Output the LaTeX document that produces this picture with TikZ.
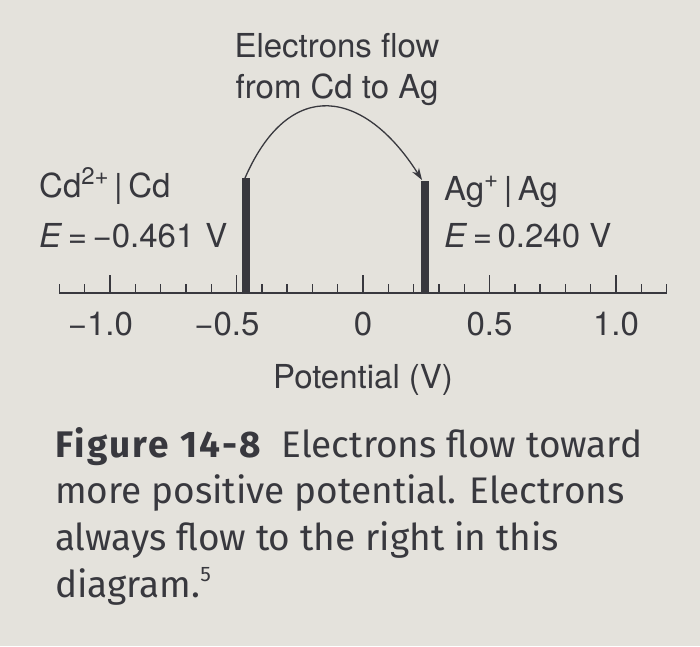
\documentclass[tikz,border=0pt]{standalone}
\usepackage{fontspec}
\setmainfont{TeX Gyre Heros}
\newfontfamily\capfont{Fira Sans}[BoldFeatures={LetterSpace=6}]
\usetikzlibrary{arrows.meta, positioning}
\definecolor{paper}{RGB}{228,226,220}
\definecolor{ink}{RGB}{56,56,62}
\tikzset{
  lbl/.style = {inner sep=0pt, text=ink, font=\fontsize{33}{38}\selectfont},
  ticklbl/.style = {lbl, anchor=base},
  caption/.style = {inner sep=0pt, text=ink, anchor=base west,
    font=\capfont\fontsize{37}{46}\selectfont},
  elec/.style = {draw=ink, line width=1.3pt, -{Stealth[length=12pt, width=8pt]}},
  bar/.style = {draw=ink, line width=8pt},% electrode line
  axisline/.style = {draw=ink, line width=2.4pt}
}
\newcommand{\footmark}[1]{\raisebox{16pt}{\fontsize{21}{21}\selectfont #1}}
\newcommand{\ioncharge}[1]{\raisebox{13pt}{\fontsize{24}{24}\selectfont #1}}

\begin{document}
\begin{tikzpicture}[x=1pt, y=-1pt]
\useasboundingbox (0,0) rectangle (700,646);
\fill[paper] (0,0) rectangle (700,646);
% potential axis, 0.1 V per minor tick
\coordinate (axl) at (59.4,293);
\coordinate (axr) at (666.6,293);
\draw[axisline] (axl) -- (axr);
\foreach \i in {-12,...,12}
  \draw[draw=ink, line width=1.4pt] ({363+25.3*\i},293) -- ++(0,-9);
\foreach \i in {-10,-5,0,5,10}
  \draw[draw=ink, line width=1.4pt] ({363+25.3*\i},293) -- ++(0,-18);
\foreach \i/\n/\t in {-10/mone/{\llap{−}1.0}, -5/mhalf/{\llap{−}0.5},
    0/zero/0, 5/half/0.5, 10/one/1.0}
  \node (tick\n) [ticklbl] at ({363+25.3*\i},335) {\t};
\node (potlbl) [lbl, anchor=base] at (363,388) {Potential (V)};
% electrodes
\coordinate (cdfoot) at (246.4,294);
\coordinate (cdtop) at (246.4,178);
\coordinate (agfoot) at (425,294);
\coordinate (agtop) at (425,181);
\draw[bar] (cdfoot) -- (cdtop);
\draw[bar] (agfoot) -- (agtop);
\coordinate (cdtip) at (245,178);
\coordinate (agtip) at (422,180);
\draw[elec] (cdtip) .. controls (290,75) and (365,90) .. (agtip);
\node (cdion) [lbl, anchor=base west] at (39,197) {Cd\ioncharge{2+}\,|\,Cd};
\node (cdpot) [lbl, anchor=base west] at (39,247) {\textit{E}\,=\,−0.461\,\,V};
\node (agion) [lbl, anchor=base west] at (444,200) {Ag\ioncharge{+}\,|\,Ag};
\node (agpot) [lbl, anchor=base west] at (444,247) {\textit{E}\,=\,0.240 V};
\node (flowa) [lbl, anchor=base] at (337,57) {Electrons flow};
\node (flowb) [lbl, anchor=base] at (337,98) {from Cd to Ag};
% caption
\node (capa) [caption] at (55,457) {\textbf{Figure 14-8}\enspace Electrons flow toward};
\node (capb) [caption, below=46.7pt of capa.base west, anchor=base west]
  {more positive potential. Electrons};
\node (capc) [caption, below=46.7pt of capb.base west, anchor=base west]
  {always flow to the right in this};
\node (capd) [caption, below=46.7pt of capc.base west, anchor=base west]
  {diagram.\footmark{5}};
\end{tikzpicture}
\end{document}
